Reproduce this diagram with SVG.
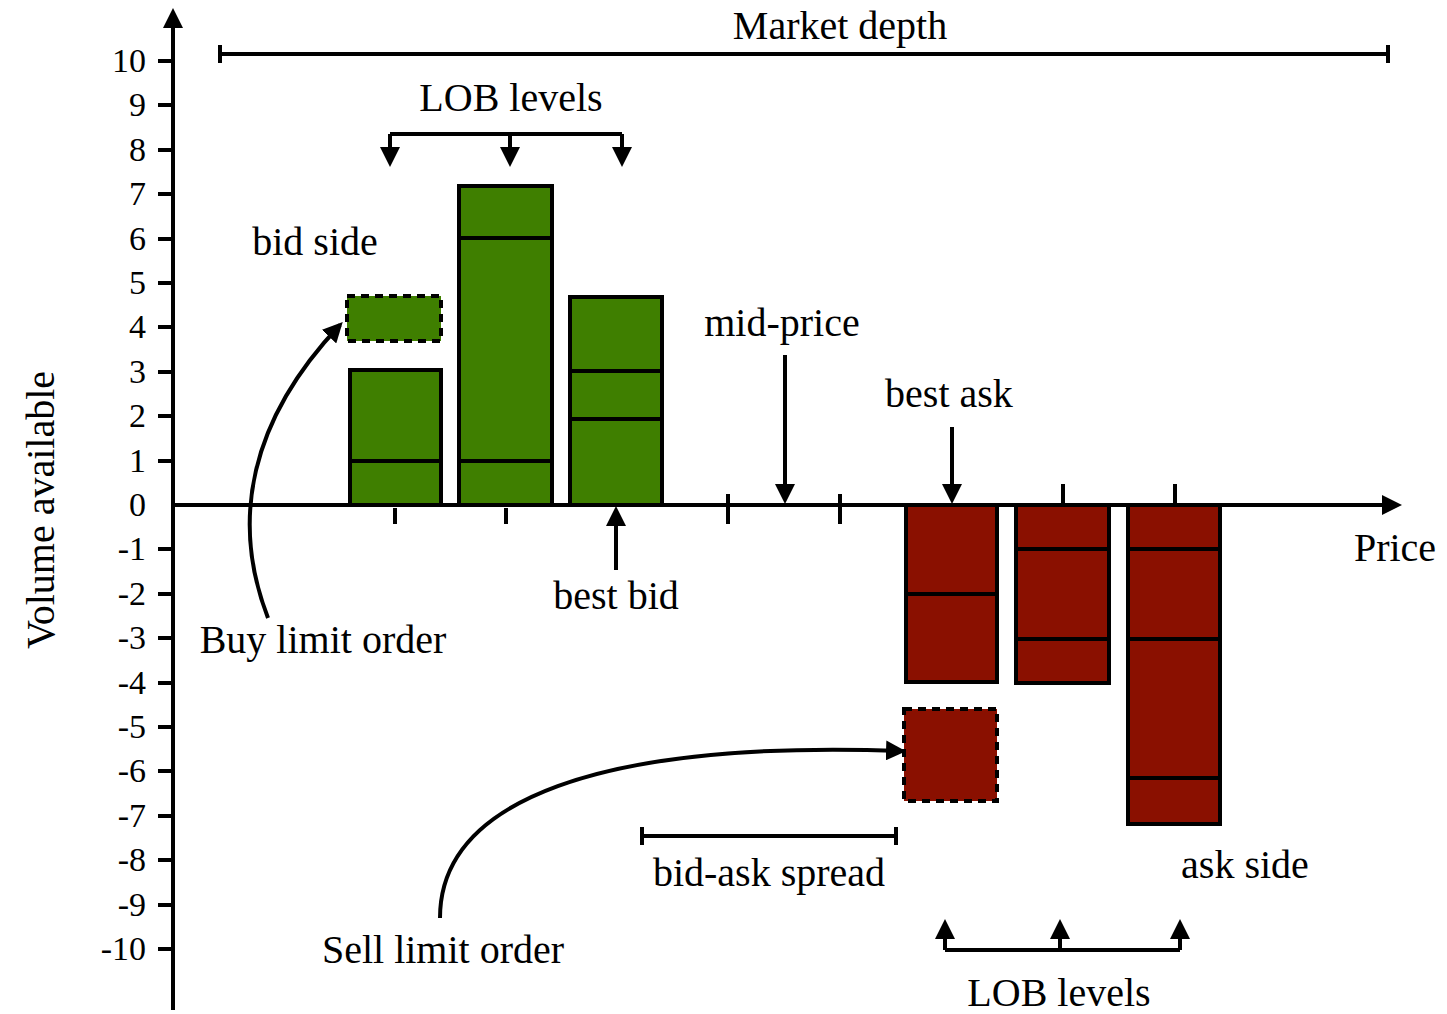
<svg xmlns="http://www.w3.org/2000/svg" width="1447" height="1014" viewBox="0 0 1447 1014">
<style>
text{font-family:"Liberation Serif",serif;fill:#000}
.t{font-size:34px;text-anchor:end}
.l{font-size:40px;text-anchor:middle}
.ln{stroke:#000;stroke-width:4;fill:none}
.g{fill:#3f7f00;stroke:#000;stroke-width:4}
.r{fill:#8a1000;stroke:#000;stroke-width:4}
.d{stroke-dasharray:8 6}
</style>
<defs>
<marker id="a" viewBox="0 0 10 10" refX="8" refY="5" markerWidth="5" markerHeight="5" orient="auto-start-reverse" markerUnits="strokeWidth"><path d="M0,0L10,5L0,10z" fill="#000"/></marker>
</defs>
<rect width="1447" height="1014" fill="#fff"/>
<g id="axes">
<line class="ln" x1="173" y1="1010" x2="173" y2="12" marker-end="url(#a)"/>
<line class="ln" x1="173" y1="505" x2="1398" y2="505" marker-end="url(#a)"/>
<g class="ln" stroke-width="3">
<path d="M158,61h15M158,105h15M158,150h15M158,194h15M158,239h15M158,283h15M158,327h15M158,372h15M158,416h15M158,461h15M158,549h15M158,594h15M158,638h15M158,683h15M158,727h15M158,771h15M158,816h15M158,860h15M158,905h15M158,949h15"/>
</g>
<path class="ln" d="M395,508v16M506,508v16M728,494v30M840,494v30M1063,484v21M1175,484v21"/>
<g class="t">
<text x="146" y="72">10</text><text x="146" y="116">9</text><text x="146" y="161">8</text><text x="146" y="205">7</text><text x="146" y="250">6</text><text x="146" y="294">5</text><text x="146" y="338">4</text><text x="146" y="383">3</text><text x="146" y="427">2</text><text x="146" y="472">1</text><text x="146" y="516">0</text><text x="146" y="560">-1</text><text x="146" y="605">-2</text><text x="146" y="649">-3</text><text x="146" y="694">-4</text><text x="146" y="738">-5</text><text x="146" y="782">-6</text><text x="146" y="827">-7</text><text x="146" y="871">-8</text><text x="146" y="916">-9</text><text x="146" y="960">-10</text>
</g>
<text class="l" transform="translate(54,510) rotate(-90)">Volume available</text>
<text class="l" x="1395" y="561">Price</text>
</g>
<g id="bid1"><rect class="g" x="350" y="370" width="91" height="135"/><line class="ln" x1="350" y1="461" x2="441" y2="461"/></g>
<g id="bidnew"><rect class="g d" x="347" y="296" width="94" height="45"/></g>
<g id="bid2"><rect class="g" x="459" y="186" width="93" height="319"/><path class="ln" d="M459,238h93M459,461h93"/></g>
<g id="bid3"><rect class="g" x="570" y="297" width="92" height="208"/><path class="ln" d="M570,371h92M570,419h92"/></g>
<g id="ask1"><rect class="r" x="906" y="505" width="91" height="177"/><path class="ln" d="M906,594h91"/></g>
<g id="ask2"><rect class="r" x="1016" y="505" width="93" height="178"/><path class="ln" d="M1016,549h93M1016,639h93"/></g>
<g id="ask3"><rect class="r" x="1128" y="505" width="92" height="319"/><path class="ln" d="M1128,549h92M1128,639h92M1128,778h92"/></g>
<g id="asknew"><rect class="r d" x="904" y="709" width="93" height="92"/></g>
<g id="connectors">
<path class="ln" d="M220,54H1388M220,45v18M1388,45v18"/>
<path class="ln" d="M390,134H622"/>
<line class="ln" x1="390" y1="134" x2="390" y2="163" marker-end="url(#a)"/>
<line class="ln" x1="510" y1="134" x2="510" y2="163" marker-end="url(#a)"/>
<line class="ln" x1="622" y1="134" x2="622" y2="163" marker-end="url(#a)"/>
<line class="ln" x1="785" y1="355" x2="785" y2="500" marker-end="url(#a)"/>
<line class="ln" x1="952" y1="427" x2="952" y2="500" marker-end="url(#a)"/>
<line class="ln" x1="616" y1="570" x2="616" y2="510" marker-end="url(#a)"/>
<path class="ln" d="M268,618C230,520 250,420 340,325" marker-end="url(#a)"/>
<path class="ln" d="M440,918C440,800 600,740 902,751" marker-end="url(#a)"/>
<path class="ln" d="M642,836H896M642,827v18M896,827v18"/>
<path class="ln" d="M945,950H1180"/>
<line class="ln" x1="945" y1="950" x2="945" y2="923" marker-end="url(#a)"/>
<line class="ln" x1="1060" y1="950" x2="1060" y2="923" marker-end="url(#a)"/>
<line class="ln" x1="1180" y1="950" x2="1180" y2="923" marker-end="url(#a)"/>
</g>
<g id="labels" class="l">
<text x="840" y="39">Market depth</text>
<text x="511" y="111">LOB levels</text>
<text x="315" y="255">bid side</text>
<text x="782" y="336">mid-price</text>
<text x="949" y="407">best ask</text>
<text x="616" y="609">best bid</text>
<text x="323" y="653">Buy limit order</text>
<text x="443" y="963">Sell limit order</text>
<text x="769" y="886">bid-ask spread</text>
<text x="1245" y="878">ask side</text>
<text x="1059" y="1006">LOB levels</text>
</g>
</svg>
